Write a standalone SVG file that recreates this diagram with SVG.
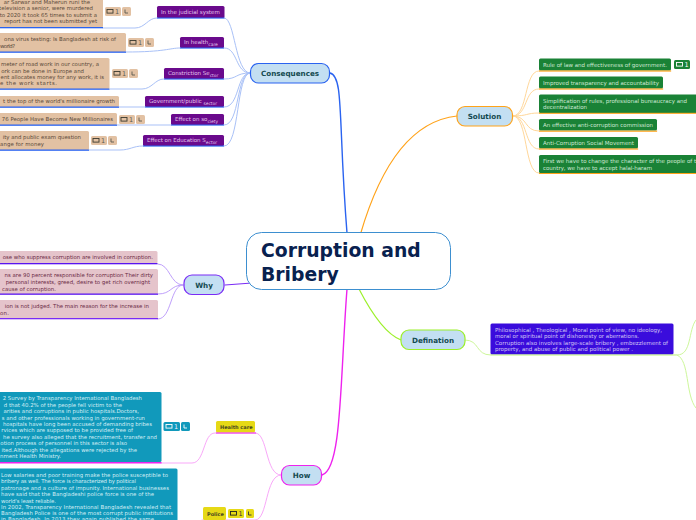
<svg xmlns="http://www.w3.org/2000/svg" width="696" height="520" viewBox="0 0 696 520">
<style>
text{font-family:"DejaVu Sans",Verdana,sans-serif}
.c{fill:none;stroke-linecap:round}
.b1{stroke:#2a63f0;stroke-width:1.4}.b2{stroke:#a9c1f7;stroke-width:1}
.o1{stroke:#ffa31a;stroke-width:1.2}.o2{stroke:#ffd79a;stroke-width:1}
.g1{stroke:#9cf02a;stroke-width:1.2}.g2{stroke:#cdf79a;stroke-width:1}
.p1{stroke:#7a2cf5;stroke-width:1.2}.p2{stroke:#bfa0fb;stroke-width:1}
.m1{stroke:#ee22ee;stroke-width:1.4}.m2{stroke:#f9a8f9;stroke-width:1}
.main{fill:#c3dff2;stroke-width:1.2}
.mt{font-size:7.2px;font-weight:700;fill:#134a50;text-anchor:middle}
.pn{fill:#6a0a8c}.pt{font-size:5.5px;fill:#e3c4ee}.ps{font-size:4.4px}
.tan{fill:#e2c1a3}.tt{font-size:5.4px;fill:#5a4a3a;text-anchor:end}
.gn{fill:#1a8236}.gt{font-size:5.5px;fill:#cfe8d5}
.pk{fill:#e5c4cb}.kt{font-size:5.4px;fill:#6a2a45;text-anchor:end}
.tl{fill:#1199bb}.lt{font-size:5.4px;fill:#d4eef5}.e{text-anchor:end}
.s{text-anchor:start}
.yl{fill:#e6d916}.yt{font-size:5px;font-weight:700;fill:#4a4a20}
.n{font-size:6.5px}
</style>
<defs>
<g id="tanIcons"><rect width="16" height="9" rx="1.5" class="tan"/><rect x="17" width="9" height="9" rx="1.5" class="tan"/><rect x="2" y="2.500" width="6" height="3.600" fill="none" stroke="#3a3a30" stroke-width=".9"/><text x="10" y="7" class="n" fill="#5a5a50">1</text><path d="M20 2.500v3.500h3" fill="none" stroke="#5a5a50" stroke-width=".9"/></g>
<g id="tealIcons"><rect width="16.500" height="9" rx="1.500" class="tl"/><rect x="17.500" width="9" height="9" rx="1.500" class="tl"/><rect x="2.500" y="2.500" width="6" height="3.600" fill="none" stroke="#fff" stroke-width=".9"/><text x="10.500" y="7" class="n" fill="#eef">1</text><path d="M20.500 2.500v3.500h3" fill="none" stroke="#fff" stroke-width=".9"/></g>
<g id="yelIcons"><rect width="16" height="9" rx="1.500" class="yl"/><rect x="18" width="8" height="9" rx="1.500" class="yl"/><rect x="2.500" y="2.500" width="6" height="3.600" fill="none" stroke="#222" stroke-width=".9"/><text x="10.500" y="7" class="n" fill="#333">1</text><path d="M20.500 2.500v3.500h3" fill="none" stroke="#333" stroke-width=".9"/></g>
</defs>
<rect width="696" height="520" fill="#fff"/>
<g id="connectors">
<path class="c b1" d="M330 73C344 76 338 120 347 233"/>
<path class="c o1" d="M457 116C420 120 385 150 360.500 234"/>
<path class="c g1" d="M401 340C388 335 375 320 359 289"/>
<path class="c p1" d="M225 285L252 283"/>
<path class="c m1" d="M322 475C342 470 340 380 347 289"/>
<path class="c b2" d="M250 73C235 73 235 18 224 18H157C148 18 145 28 135 28H103"/>
<path class="c b2" d="M250 73C235 73 238 48 224 48H180C170 48 165 52 126 52"/>
<path class="c b2" d="M250 73C235 73 238 79 224 79H164C155 79 152 89 142 89H110"/>
<path class="c b2" d="M250 73C236 73 240 107 224 107H119"/>
<path class="c b2" d="M250 73C236 73 240 125 224 125H117"/>
<path class="c b2" d="M250 73C236 73 240 146 224 146H143C133 146 130 150 120 150H89"/>
<path class="c o2" d="M513 116C528 116 524 71 539 71H671"/>
<path class="c o2" d="M513 116C528 116 524 89 539 89H663"/>
<path class="c o2" d="M513 116C528 116 526 113 539 113H696"/>
<path class="c o2" d="M513 116C528 116 524 131 539 131H657"/>
<path class="c o2" d="M513 116C528 116 524 149 539 149H638"/>
<path class="c o2" d="M513 116C528 116 524 173 539 173H696"/>
<path class="c g2" d="M465 340C480 340 475 355 491 355H677C692 355 688 330 696 320"/>
<path class="c g2" d="M677 355C690 360 685 395 696 408"/>
<path class="c p2" d="M183 285C170 285 170 264 158 264"/>
<path class="c p2" d="M183 285C170 285 172 294 158 294"/>
<path class="c p2" d="M183 285C170 285 172 319 158 319"/>
<path class="c m2" d="M281 475C265 475 268 433 255 433H215C203 433 205 463 192 463H161"/>
<path class="c m2" d="M281 475C265 475 268 520 255 520H202"/>
</g>
<g id="center"><rect x="246.500" y="232.500" width="204" height="57" rx="15" fill="#fff" stroke="#3d8fd0" stroke-width="1"/><text x="261" y="256.700" font-size="18.800" font-weight="700" fill="#08214f">Corruption and</text><text x="261" y="280.700" font-size="18.800" font-weight="700" fill="#08214f">Bribery</text></g>
<g id="consequences"><rect x="250.500" y="63.500" width="79" height="19.500" rx="8" class="main" stroke="#2a63f0"/><text x="290" y="76" class="mt">Consequences</text></g>
<g id="solution"><rect x="457" y="106.500" width="55.500" height="19.500" rx="8" class="main" stroke="#ffa31a"/><text x="484.500" y="119" class="mt">Solution</text></g>
<g id="defination"><rect x="401" y="330" width="64" height="19.500" rx="8" class="main" stroke="#9cf02a"/><text x="433" y="343" class="mt">Defination</text></g>
<g id="why"><rect x="184" y="275" width="40" height="19.500" rx="8" class="main" stroke="#7a2cf5"/><text x="204" y="287.500" class="mt">Why</text></g>
<g id="how"><rect x="281.500" y="465.500" width="40" height="19.500" rx="8" class="main" stroke="#ee22ee"/><text x="301.500" y="478" class="mt">How</text></g>
<g id="n-judicial"><rect x="157" y="6" width="67.500" height="12" rx="1.500" class="pn"/><rect x="157" y="17.500" width="67.500" height="1" fill="#2a63f0"/><text x="161" y="14" class="pt">In the judicial system</text></g>
<g id="n-health"><rect x="180" y="37" width="44" height="11" rx="1.500" class="pn"/><rect x="180" y="47.500" width="44" height="1" fill="#2a63f0"/><text x="184" y="44" class="pt">In health<tspan class="ps" dy="1.500">care</tspan></text></g>
<g id="n-constriction"><rect x="164" y="68" width="60" height="11" rx="1.500" class="pn"/><rect x="164" y="78.500" width="60" height="1" fill="#2a63f0"/><text x="168" y="75" class="pt">Constriction Se<tspan class="ps" dy="1.500">ctor</tspan></text></g>
<g id="n-government"><rect x="145" y="96" width="79" height="11" rx="1.500" class="pn"/><rect x="145" y="106.500" width="79" height="1" fill="#2a63f0"/><text x="149" y="103" class="pt">Government/public <tspan class="ps" dy="1.500">sector</tspan></text></g>
<g id="n-society"><rect x="171" y="114" width="53" height="11" rx="1.500" class="pn"/><rect x="171" y="124.500" width="53" height="1" fill="#2a63f0"/><text x="175" y="121" class="pt">Effect on so<tspan class="ps" dy="1.500">ciety</tspan></text></g>
<g id="n-education"><rect x="143" y="135" width="81" height="11" rx="1.500" class="pn"/><rect x="143" y="145.500" width="81" height="1" fill="#2a63f0"/><text x="147" y="142" class="pt">Effect on Education S<tspan class="ps" dy="1.500">ector</tspan></text></g>
<g id="t-judicial"><rect x="-5" y="-5" width="108" height="32.500" rx="1.500" class="tan"/><rect x="-5" y="27" width="108" height="1.300" fill="#2a63f0"/><text class="tt"><tspan x="90" y="4">ar Sarwar and Maherun runi  the</tspan><tspan x="93" y="10">television a senior, were murdered</tspan><tspan x="97" y="16.500">to 2020 it took 65 times to submit a</tspan><tspan x="97" y="23">report has not been submitted yet</tspan></text><use href="#tanIcons" x="105" y="7"/></g>
<g id="t-health"><rect x="-5" y="33" width="131" height="19" rx="1.500" class="tan"/><rect x="-5" y="51.500" width="131" height="1.300" fill="#2a63f0"/><text x="116" y="41" class="tt">ona virus testing: Is Bangladesh at risk of</text><text x="0" y="48" class="tt s" textLength="15">world?</text><use href="#tanIcons" x="128" y="38"/></g>
<g id="t-constriction"><rect x="-5" y="58" width="114.500" height="31" rx="1.500" class="tan"/><rect x="-5" y="88.500" width="114.500" height="1.300" fill="#2a63f0"/><text class="tt"><tspan x="99" y="66">meter of road work in our country, a</tspan><tspan x="84" y="72.500">ork can be done in Europe and</tspan><tspan x="104" y="78.500">ent allocates money for any work, it is</tspan></text><text x="0" y="85" class="tt s" textLength="57">e the work starts.</text><use href="#tanIcons" x="112" y="69"/></g>
<g id="t-government"><rect x="-5" y="96" width="124" height="11" rx="1.500" class="tan"/><rect x="-5" y="106.500" width="124" height="1.300" fill="#2a63f0"/><text x="115" y="103" class="tt">t the top of the world's millionaire growth</text></g>
<g id="t-society"><rect x="-5" y="113" width="122" height="12" rx="1.500" class="tan"/><rect x="-5" y="124.500" width="122" height="1.300" fill="#2a63f0"/><text x="113" y="121" class="tt">76 People Have Become New Millionaires</text><use href="#tanIcons" x="119" y="115"/></g>
<g id="t-education"><rect x="-5" y="131" width="94" height="19" rx="1.500" class="tan"/><rect x="-5" y="149.500" width="94" height="1.300" fill="#2a63f0"/><text x="81" y="139" class="tt">ity and public exam question</text><text x="0" y="146" class="tt s" textLength="44">ange for money</text><use href="#tanIcons" x="91" y="136"/></g>
<g id="s-rule"><rect x="539" y="58.500" width="132" height="12" rx="1.500" class="gn"/><rect x="539" y="70.500" width="132" height="1" fill="#ffa31a"/><text x="543" y="66.500" class="gt" textLength="124">Rule of law and effectiveness of government.</text><rect x="674" y="60" width="16" height="9" rx="1.500" class="gn"/><rect x="676.500" y="62.500" width="6" height="3.600" fill="none" stroke="#fff" stroke-width=".9"/><text x="684.500" y="67" class="n" fill="#fff">1</text></g>
<g id="s-transparency"><rect x="539" y="76.500" width="124" height="12" rx="1.500" class="gn"/><rect x="539" y="88.500" width="124" height="1" fill="#ffa31a"/><text x="543" y="84.500" class="gt" textLength="116">Improved transparency and accountability</text></g>
<g id="s-simplify"><rect x="539" y="94.500" width="160" height="18.500" rx="1.500" class="gn"/><rect x="539" y="112.800" width="160" height="1" fill="#ffa31a"/><text x="543" y="102.500" class="gt" textLength="144">Simplification of rules, professional bureaucracy and</text><text x="543" y="108.700" class="gt" textLength="44">decentralization</text></g>
<g id="s-commission"><rect x="539" y="119" width="118" height="11.500" rx="1.500" class="gn"/><rect x="539" y="130.700" width="118" height="1" fill="#ffa31a"/><text x="543" y="126.800" class="gt" textLength="110">An effective anti-corruption commission</text></g>
<g id="s-movement"><rect x="539" y="137" width="99" height="11.500" rx="1.500" class="gn"/><rect x="539" y="148.500" width="99" height="1" fill="#ffa31a"/><text x="543" y="144.800" class="gt" textLength="91">Anti-Corruption Social Movement</text></g>
<g id="s-character"><rect x="539" y="155" width="160" height="18" rx="1.500" class="gn"/><rect x="539" y="173" width="160" height="1" fill="#ffa31a"/><text x="543" y="162.800" class="gt" textLength="160">First we have to change the character of the people of the</text><text x="543" y="169.800" class="gt" textLength="109">country, we have to accept halal-haram</text></g>
<g id="d-definition"><rect x="490.500" y="323.500" width="183" height="31" rx="1.500" fill="#3a0cdc"/><rect x="490.500" y="354.500" width="186" height=".8" fill="#cdf79a"/><g font-size="5.500" fill="#d0c4f5"><text x="495" y="332" textLength="167">Philosophical , Theological , Moral point of view, no ideology,</text><text x="495" y="338" textLength="144">moral or spiritual point of dishonesty or aberrations.</text><text x="495" y="345" textLength="173">Corruption also involves large-scale bribery , embezzlement of</text><text x="495" y="351" textLength="138">property, and abuse of public and political power .</text></g></g>
<g id="w-suppress"><rect x="-5" y="251" width="162.500" height="12.500" rx="1.500" class="pk"/><rect x="-5" y="263" width="162.500" height="1.300" fill="#5a14f0"/><text x="153" y="259" class="kt">ose who suppress corruption are involved in corruption.</text></g>
<g id="w-percent"><rect x="-5" y="269" width="163" height="25" rx="1.500" class="pk"/><rect x="-5" y="293.500" width="163" height="1.300" fill="#5a14f0"/><text class="kt"><tspan x="153" y="277">ns are 90 percent responsible for corruption Their dirty</tspan><tspan x="150" y="283.500">personal interests, greed, desire to get rich overnight</tspan><tspan x="56" y="290.500">cause of corruption.</tspan></text></g>
<g id="w-judged"><rect x="-5" y="300" width="163" height="18.500" rx="1.500" class="pk"/><rect x="-5" y="318" width="163" height="1.300" fill="#7a2cf5"/><text x="149" y="308" class="kt">ion is not judged. The main reason for the increase in</text><text x="0" y="314.500" class="kt s" textLength="9">on.</text></g>
<g id="h-care"><rect x="216" y="421" width="39" height="11.500" rx="1.500" class="yl"/><rect x="216" y="432.500" width="40" height="1" fill="#ee22ee"/><text x="220" y="429" class="yt">Health care</text></g>
<g id="h-police"><rect x="203" y="507" width="23" height="13" rx="1.500" class="yl"/><text x="207" y="516" class="yt">Police</text><use href="#yelIcons" x="228" y="509"/></g>
<g id="h-report"><rect x="-5" y="392" width="166.500" height="70" rx="1.500" class="tl"/><rect x="-5" y="462" width="166.500" height="1.500" fill="#ee22ee"/><text class="lt e"><tspan x="142" y="400">2 Survey by Transparency International Bangladesh</tspan><tspan x="122" y="406.500">d that 40.2% of the people fell victim to the</tspan><tspan x="139" y="413">arities and corruptions in public hospitals.Doctors,</tspan><tspan x="145" y="419.500">s and other professionals working in government-run</tspan><tspan x="152" y="426">hospitals have long been accused of demanding bribes</tspan><tspan x="133" y="432">rvices which are supposed to be provided free of</tspan><tspan x="157" y="438.500">he survey also alleged that the recruitment, transfer and</tspan><tspan x="127" y="445">otion process of personnel in this sector is also</tspan><tspan x="137" y="451.500">ited.Although the allegations were rejected by the</tspan></text><text x="0" y="458" class="lt" textLength="61">nment Health Ministry.</text><use href="#tealIcons" x="163.500" y="422"/></g>
<g id="h-salaries"><rect x="-5" y="468.500" width="182.500" height="60" rx="1.500" class="tl"/><g class="lt"><text x="1" y="476.500" textLength="167">Low salaries and poor training make the police susceptible to</text><text x="1" y="483" textLength="135">bribery as well. The force is characterized by political</text><text x="1" y="489.500" textLength="168">patronage and a culture of impunity. International businesses</text><text x="1" y="496" textLength="153">have said that the Bangladeshi police force is one of the</text><text x="1" y="502.500" textLength="55">world's least reliable.</text><text x="1" y="508.500" textLength="170">In 2002, Transparency International Bangladesh revealed that</text><text x="1" y="515" textLength="172">Bangladesh Police is one of the most corrupt public institutions</text><text x="1" y="521" textLength="153">in Bangladesh. In 2013 they again published the same</text></g></g>
</svg>
